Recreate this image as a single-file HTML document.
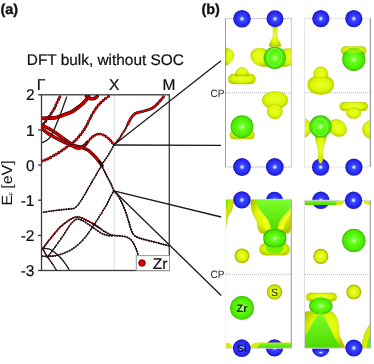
<!DOCTYPE html>
<html><head><meta charset="utf-8">
<style>
html,body{margin:0;padding:0;background:#fff;}
body{width:374px;height:364px;overflow:hidden;position:relative;}
svg{position:absolute;left:0;top:0;}
text{font-family:"Liberation Sans",Arial,sans-serif;text-rendering:geometricPrecision;}
</style></head><body>
<svg width="374" height="364" viewBox="0 0 374 364">
<defs>
<clipPath id="plotclip"><rect x="41.5" y="94.8" width="127.8" height="175.7"/></clipPath>
<radialGradient id="gBlue" cx="0.5" cy="0.5" r="0.5" fx="0.5" fy="0.5">
 <stop offset="0" stop-color="#f4ffff"/><stop offset="0.13" stop-color="#a8c4ff"/><stop offset="0.3" stop-color="#3c46ff"/><stop offset="0.78" stop-color="#2626f2"/><stop offset="1" stop-color="#1818b4"/>
</radialGradient>
<radialGradient id="gGreen" cx="0.5" cy="0.5" r="0.5" fx="0.5" fy="0.5">
 <stop offset="0" stop-color="#e6ffd8"/><stop offset="0.12" stop-color="#98ff66"/><stop offset="0.35" stop-color="#62ff14"/><stop offset="0.85" stop-color="#4ae800"/><stop offset="1" stop-color="#34b400"/>
</radialGradient>
<radialGradient id="gYel" cx="0.5" cy="0.5" r="0.5" fx="0.5" fy="0.5">
 <stop offset="0" stop-color="#faffa0"/><stop offset="0.2" stop-color="#eaff20"/><stop offset="0.7" stop-color="#d8f000"/><stop offset="1" stop-color="#9aaa00"/>
</radialGradient>
<radialGradient id="gLobe" cx="0.5" cy="0.45" r="0.6">
 <stop offset="0" stop-color="#ecff30"/><stop offset="0.6" stop-color="#dcf800"/><stop offset="1" stop-color="#aec400"/>
</radialGradient>
</defs>

<!-- labels -->
<text x="0.5" y="14.4" font-size="14.4" font-weight="bold" fill="#111" stroke="#111" stroke-width="0.35">(a)</text>
<text x="201.4" y="14.3" font-size="14.4" font-weight="bold" fill="#111" stroke="#111" stroke-width="0.35">(b)</text>
<text x="26.8" y="65.1" font-size="15.4" fill="#111" stroke="#111" stroke-width="0.22">DFT bulk, without SOC</text>
<text x="36.8" y="89.9" font-size="15.8" fill="#111" stroke="#111" stroke-width="0.22">Γ</text>
<text x="108.9" y="89.7" font-size="15.5" fill="#111" stroke="#111" stroke-width="0.22">X</text>
<text x="162.6" y="89.5" font-size="15.5" fill="#111" stroke="#111" stroke-width="0.22">M</text>
<text x="34.5" y="100.3" font-size="15.5" fill="#111" stroke="#111" stroke-width="0.22" text-anchor="end">2</text>
<text x="34.5" y="135.6" font-size="15.5" fill="#111" stroke="#111" stroke-width="0.22" text-anchor="end">1</text>
<text x="34.5" y="171.0" font-size="15.5" fill="#111" stroke="#111" stroke-width="0.22" text-anchor="end">0</text>
<text x="34.5" y="206.2" font-size="15.5" fill="#111" stroke="#111" stroke-width="0.22" text-anchor="end">-1</text>
<text x="34.5" y="241.3" font-size="15.5" fill="#111" stroke="#111" stroke-width="0.22" text-anchor="end">-2</text>
<text x="34.5" y="276.1" font-size="15.5" fill="#111" stroke="#111" stroke-width="0.22" text-anchor="end">-3</text>
<g transform="translate(11.7,205.4) rotate(-90) scale(1.09,1)" font-size="14.8" fill="#111"><text x="0" y="0">E</text><text x="9.2" y="1.6" font-size="5.5">F</text><text x="15.2" y="0">[eV]</text></g>

<!-- plot frame -->
<line x1="114.3" y1="95" x2="114.3" y2="270" stroke="#dcdcdc" stroke-width="1"/>
<g clip-path="url(#plotclip)">
<path d="M41.6,118.3 C43.0,118.2 47.5,118.1 50.0,118.0 C52.5,117.9 53.8,118.2 56.5,117.5 C59.2,116.8 63.5,115.1 66.0,114.1 C68.5,113.1 69.9,112.7 71.8,111.7 C73.7,110.7 75.6,109.3 77.5,107.9 C79.4,106.5 81.7,104.6 83.3,103.1 C84.9,101.6 86.3,99.8 87.2,98.7 C88.1,97.6 88.4,96.9 88.6,96.6" stroke="#2a0202" stroke-width="3.8" fill="none" stroke-linecap="round"/>
<path d="M41.6,118.3 C43.0,118.2 47.5,118.1 50.0,118.0 C52.5,117.9 53.8,118.2 56.5,117.5 C59.2,116.8 63.5,115.1 66.0,114.1 C68.5,113.1 69.9,112.7 71.8,111.7 C73.7,110.7 75.6,109.3 77.5,107.9 C79.4,106.5 81.7,104.6 83.3,103.1 C84.9,101.6 86.3,99.8 87.2,98.7 C88.1,97.6 88.4,96.9 88.6,96.6" stroke="#f20000" stroke-width="2.74" fill="none" stroke-dasharray="1.5 0.55"/>
<path d="M86.5,96.2 C87.0,96.5 88.6,97.9 89.5,98.3 C90.4,98.7 91.2,98.8 92.0,98.8 C92.8,98.8 93.6,98.8 94.5,98.4 C95.4,98.0 96.8,96.6 97.2,96.2" stroke="#2a0202" stroke-width="3.6" fill="none" stroke-linecap="round"/>
<path d="M86.5,96.2 C87.0,96.5 88.6,97.9 89.5,98.3 C90.4,98.7 91.2,98.8 92.0,98.8 C92.8,98.8 93.6,98.8 94.5,98.4 C95.4,98.0 96.8,96.6 97.2,96.2" stroke="#f20000" stroke-width="2.59" fill="none" stroke-dasharray="1.5 0.55"/>
<path d="M59.8,96.9 C59.3,97.8 57.9,100.6 57.0,102.5 C56.1,104.4 55.6,106.2 54.4,108.4 C53.2,110.6 51.5,113.1 49.9,115.4 C48.3,117.7 46.2,120.8 44.9,122.4 C43.6,124.0 42.5,124.6 42.0,125.0" stroke="#1a0505" stroke-width="1.3" fill="none"/>
<path d="M59.8,96.9 C59.3,97.8 57.9,100.6 57.0,102.5 C56.1,104.4 55.6,106.2 54.4,108.4 C53.2,110.6 51.5,113.1 49.9,115.4 C48.3,117.7 46.2,120.8 44.9,122.4 C43.6,124.0 42.5,124.6 42.0,125.0" stroke="#1a0505" stroke-width="3.00" fill="none" stroke-linecap="round" stroke-dasharray="0.01 3.15"/>
<path d="M59.8,96.9 C59.3,97.8 57.9,100.6 57.0,102.5 C56.1,104.4 55.6,106.2 54.4,108.4 C53.2,110.6 51.5,113.1 49.9,115.4 C48.3,117.7 46.2,120.8 44.9,122.4 C43.6,124.0 42.5,124.6 42.0,125.0" stroke="#f20000" stroke-width="2.10" fill="none" stroke-linecap="round" stroke-dasharray="0.01 3.15"/>
<path d="M66.8,96.6 C66.4,97.8 65.1,101.2 64.3,103.5 C63.5,105.8 63.0,107.4 61.8,110.5 C60.6,113.6 58.6,118.8 57.3,122.0 C56.0,125.2 55.2,127.3 54.0,129.8 C52.8,132.4 51.2,135.5 49.9,137.3 C48.6,139.1 47.1,140.0 46.0,140.8 C44.9,141.6 43.7,142.0 43.0,142.3 C42.3,142.6 41.8,142.6 41.6,142.6" stroke="#1a1a1a" stroke-width="1.3" fill="none"/>
<path d="M42.0,125.3 C43.0,125.8 45.8,126.9 48.2,128.2 C50.6,129.5 53.8,131.5 56.5,133.3 C59.2,135.2 62.0,137.4 64.7,139.3 C67.5,141.2 70.1,143.6 73.0,145.0 C75.9,146.4 79.4,146.6 82.0,147.5 C84.6,148.4 86.4,148.9 88.6,150.5 C90.8,152.1 93.3,154.9 95.2,156.9 C97.1,158.9 98.9,161.2 100.0,162.6 C101.1,164.0 101.7,165.0 102.0,165.5" stroke="#2a0202" stroke-width="3.4" fill="none" stroke-linecap="round"/>
<path d="M42.0,125.3 C43.0,125.8 45.8,126.9 48.2,128.2 C50.6,129.5 53.8,131.5 56.5,133.3 C59.2,135.2 62.0,137.4 64.7,139.3 C67.5,141.2 70.1,143.6 73.0,145.0 C75.9,146.4 79.4,146.6 82.0,147.5 C84.6,148.4 86.4,148.9 88.6,150.5 C90.8,152.1 93.3,154.9 95.2,156.9 C97.1,158.9 98.9,161.2 100.0,162.6 C101.1,164.0 101.7,165.0 102.0,165.5" stroke="#f20000" stroke-width="2.45" fill="none" stroke-dasharray="1.5 0.55"/>
<path d="M99.0,161.2 C99.2,161.4 99.2,161.2 100.0,162.6 C100.8,164.0 102.3,167.2 103.5,169.5 C104.7,171.8 105.8,173.8 107.0,176.2 C108.2,178.6 109.9,181.6 111.0,184.0 C112.1,186.4 113.3,189.7 113.8,190.8" stroke="#1e1e1e" stroke-width="1.0" fill="none"/>
<path d="M99.0,161.2 C99.2,161.4 99.2,161.2 100.0,162.6 C100.8,164.0 102.3,167.2 103.5,169.5 C104.7,171.8 105.8,173.8 107.0,176.2 C108.2,178.6 109.9,181.6 111.0,184.0 C112.1,186.4 113.3,189.7 113.8,190.8" stroke="#140808" stroke-width="2.1" fill="none" stroke-linecap="round" stroke-dasharray="0.01 2.5"/>
<path d="M99.0,161.2 C99.2,161.4 99.2,161.2 100.0,162.6 C100.8,164.0 102.3,167.2 103.5,169.5 C104.7,171.8 105.8,173.8 107.0,176.2 C108.2,178.6 109.9,181.6 111.0,184.0 C112.1,186.4 113.3,189.7 113.8,190.8" stroke="#c00000" stroke-width="0.5" fill="none" stroke-linecap="round" stroke-dasharray="0.01 2.5"/>
<path d="M42.0,128.6 C43.0,129.4 45.8,131.9 48.2,133.5 C50.6,135.1 53.8,136.8 56.5,138.3 C59.2,139.8 62.5,141.4 64.7,142.4 C67.0,143.4 68.0,143.7 70.0,144.6 C72.0,145.5 74.8,147.3 76.5,147.8 C78.2,148.3 79.1,148.3 80.5,147.8 C81.9,147.3 83.9,145.9 85.0,145.0 C86.1,144.1 86.7,142.9 87.0,142.5" stroke="#2a0202" stroke-width="3.4" fill="none" stroke-linecap="round"/>
<path d="M42.0,128.6 C43.0,129.4 45.8,131.9 48.2,133.5 C50.6,135.1 53.8,136.8 56.5,138.3 C59.2,139.8 62.5,141.4 64.7,142.4 C67.0,143.4 68.0,143.7 70.0,144.6 C72.0,145.5 74.8,147.3 76.5,147.8 C78.2,148.3 79.1,148.3 80.5,147.8 C81.9,147.3 83.9,145.9 85.0,145.0 C86.1,144.1 86.7,142.9 87.0,142.5" stroke="#f20000" stroke-width="2.45" fill="none" stroke-dasharray="1.5 0.55"/>
<path d="M82.0,147.2 C82.5,146.8 84.0,145.9 85.0,145.0 C86.0,144.1 86.8,142.8 88.0,141.5 C89.2,140.2 90.7,138.3 92.0,137.2 C93.3,136.1 94.7,135.2 96.0,134.7 C97.3,134.2 98.7,133.9 100.0,134.0 C101.3,134.1 102.7,134.6 104.0,135.3 C105.3,136.0 106.8,137.1 108.0,138.0 C109.2,138.9 110.0,139.8 111.0,141.0 C112.0,142.2 113.3,144.3 113.8,145.0" stroke="#1a0505" stroke-width="1.3" fill="none"/>
<path d="M82.0,147.2 C82.5,146.8 84.0,145.9 85.0,145.0 C86.0,144.1 86.8,142.8 88.0,141.5 C89.2,140.2 90.7,138.3 92.0,137.2 C93.3,136.1 94.7,135.2 96.0,134.7 C97.3,134.2 98.7,133.9 100.0,134.0 C101.3,134.1 102.7,134.6 104.0,135.3 C105.3,136.0 106.8,137.1 108.0,138.0 C109.2,138.9 110.0,139.8 111.0,141.0 C112.0,142.2 113.3,144.3 113.8,145.0" stroke="#1a0505" stroke-width="2.80" fill="none" stroke-linecap="round" stroke-dasharray="0.01 2.94"/>
<path d="M82.0,147.2 C82.5,146.8 84.0,145.9 85.0,145.0 C86.0,144.1 86.8,142.8 88.0,141.5 C89.2,140.2 90.7,138.3 92.0,137.2 C93.3,136.1 94.7,135.2 96.0,134.7 C97.3,134.2 98.7,133.9 100.0,134.0 C101.3,134.1 102.7,134.6 104.0,135.3 C105.3,136.0 106.8,137.1 108.0,138.0 C109.2,138.9 110.0,139.8 111.0,141.0 C112.0,142.2 113.3,144.3 113.8,145.0" stroke="#f20000" stroke-width="1.96" fill="none" stroke-linecap="round" stroke-dasharray="0.01 2.94"/>
<path d="M42.0,161.1 C43.0,160.7 46.0,159.7 48.0,158.8 C50.0,157.9 51.7,156.8 53.7,155.6 C55.7,154.4 57.9,153.3 60.0,151.9 C62.1,150.5 64.6,148.7 66.6,147.2 C68.6,145.7 70.4,144.4 72.1,143.1 C73.8,141.8 75.1,140.7 76.5,139.3 C77.9,137.9 79.2,136.3 80.5,134.7 C81.8,133.1 82.9,131.5 84.0,129.8 C85.1,128.1 86.0,126.4 87.0,124.5 C88.0,122.6 89.0,120.4 90.0,118.5 C91.0,116.6 91.8,114.9 93.0,113.0 C94.2,111.1 95.7,108.8 97.0,107.0 C98.3,105.2 99.7,103.8 101.0,102.5 C102.3,101.2 103.7,100.1 105.0,99.0 C106.3,97.9 108.3,96.5 109.0,96.0" stroke="#1a0505" stroke-width="1.3" fill="none"/>
<path d="M42.0,161.1 C43.0,160.7 46.0,159.7 48.0,158.8 C50.0,157.9 51.7,156.8 53.7,155.6 C55.7,154.4 57.9,153.3 60.0,151.9 C62.1,150.5 64.6,148.7 66.6,147.2 C68.6,145.7 70.4,144.4 72.1,143.1 C73.8,141.8 75.1,140.7 76.5,139.3 C77.9,137.9 79.2,136.3 80.5,134.7 C81.8,133.1 82.9,131.5 84.0,129.8 C85.1,128.1 86.0,126.4 87.0,124.5 C88.0,122.6 89.0,120.4 90.0,118.5 C91.0,116.6 91.8,114.9 93.0,113.0 C94.2,111.1 95.7,108.8 97.0,107.0 C98.3,105.2 99.7,103.8 101.0,102.5 C102.3,101.2 103.7,100.1 105.0,99.0 C106.3,97.9 108.3,96.5 109.0,96.0" stroke="#1a0505" stroke-width="3.00" fill="none" stroke-linecap="round" stroke-dasharray="0.01 3.15"/>
<path d="M42.0,161.1 C43.0,160.7 46.0,159.7 48.0,158.8 C50.0,157.9 51.7,156.8 53.7,155.6 C55.7,154.4 57.9,153.3 60.0,151.9 C62.1,150.5 64.6,148.7 66.6,147.2 C68.6,145.7 70.4,144.4 72.1,143.1 C73.8,141.8 75.1,140.7 76.5,139.3 C77.9,137.9 79.2,136.3 80.5,134.7 C81.8,133.1 82.9,131.5 84.0,129.8 C85.1,128.1 86.0,126.4 87.0,124.5 C88.0,122.6 89.0,120.4 90.0,118.5 C91.0,116.6 91.8,114.9 93.0,113.0 C94.2,111.1 95.7,108.8 97.0,107.0 C98.3,105.2 99.7,103.8 101.0,102.5 C102.3,101.2 103.7,100.1 105.0,99.0 C106.3,97.9 108.3,96.5 109.0,96.0" stroke="#f20000" stroke-width="2.10" fill="none" stroke-linecap="round" stroke-dasharray="0.01 3.15"/>
<path d="M113.8,145.0 C114.4,144.3 116.3,142.4 117.5,141.0 C118.7,139.6 119.5,138.3 120.7,136.4 C122.0,134.5 123.8,131.6 125.0,129.5 C126.2,127.4 127.2,125.4 128.0,123.8 C128.8,122.2 129.7,120.6 130.0,120.0" stroke="#1a0505" stroke-width="1.3" fill="none"/>
<path d="M113.8,145.0 C114.4,144.3 116.3,142.4 117.5,141.0 C118.7,139.6 119.5,138.3 120.7,136.4 C122.0,134.5 123.8,131.6 125.0,129.5 C126.2,127.4 127.2,125.4 128.0,123.8 C128.8,122.2 129.7,120.6 130.0,120.0" stroke="#1a0505" stroke-width="2.20" fill="none" stroke-linecap="round" stroke-dasharray="0.01 2.31"/>
<path d="M113.8,145.0 C114.4,144.3 116.3,142.4 117.5,141.0 C118.7,139.6 119.5,138.3 120.7,136.4 C122.0,134.5 123.8,131.6 125.0,129.5 C126.2,127.4 127.2,125.4 128.0,123.8 C128.8,122.2 129.7,120.6 130.0,120.0" stroke="#f20000" stroke-width="1.54" fill="none" stroke-linecap="round" stroke-dasharray="0.01 2.31"/>
<path d="M128.0,123.8 C128.5,122.8 130.2,119.3 131.2,117.8 C132.2,116.2 133.0,115.3 134.0,114.5 C135.0,113.7 135.5,113.3 137.0,112.8 C138.5,112.3 140.8,111.9 142.9,111.3 C145.0,110.7 147.9,109.9 149.7,109.3 C151.5,108.7 152.3,108.2 153.5,107.4 C154.7,106.6 155.5,105.7 156.6,104.6 C157.7,103.5 158.8,102.3 160.0,101.0 C161.2,99.7 162.9,97.3 163.5,96.6" stroke="#1a0505" stroke-width="1.3" fill="none"/>
<path d="M128.0,123.8 C128.5,122.8 130.2,119.3 131.2,117.8 C132.2,116.2 133.0,115.3 134.0,114.5 C135.0,113.7 135.5,113.3 137.0,112.8 C138.5,112.3 140.8,111.9 142.9,111.3 C145.0,110.7 147.9,109.9 149.7,109.3 C151.5,108.7 152.3,108.2 153.5,107.4 C154.7,106.6 155.5,105.7 156.6,104.6 C157.7,103.5 158.8,102.3 160.0,101.0 C161.2,99.7 162.9,97.3 163.5,96.6" stroke="#1a0505" stroke-width="3.00" fill="none" stroke-linecap="round" stroke-dasharray="0.01 2.10"/>
<path d="M128.0,123.8 C128.5,122.8 130.2,119.3 131.2,117.8 C132.2,116.2 133.0,115.3 134.0,114.5 C135.0,113.7 135.5,113.3 137.0,112.8 C138.5,112.3 140.8,111.9 142.9,111.3 C145.0,110.7 147.9,109.9 149.7,109.3 C151.5,108.7 152.3,108.2 153.5,107.4 C154.7,106.6 155.5,105.7 156.6,104.6 C157.7,103.5 158.8,102.3 160.0,101.0 C161.2,99.7 162.9,97.3 163.5,96.6" stroke="#f20000" stroke-width="2.10" fill="none" stroke-linecap="round" stroke-dasharray="0.01 2.10"/>
<path d="M113.8,145.0 C113.3,145.9 112.1,148.5 111.0,150.5 C109.9,152.5 108.2,155.1 107.0,157.0 C105.8,158.9 104.5,160.4 103.5,162.0 C102.5,163.6 101.7,165.0 100.8,166.6 C99.9,168.2 98.9,169.9 98.0,171.5 C97.1,173.1 96.2,174.6 95.3,176.2 C94.4,177.8 93.4,179.5 92.5,181.0 C91.6,182.5 90.9,183.6 90.0,185.2 C89.1,186.8 88.0,188.7 87.0,190.5 C86.0,192.3 85.0,194.1 84.0,195.8 C83.0,197.5 81.9,199.2 81.0,200.6 C80.1,202.0 79.4,203.2 78.5,204.3 C77.6,205.4 76.4,206.7 75.5,207.4 C74.6,208.1 74.8,208.3 73.0,208.6 C71.2,208.9 67.9,209.1 64.7,209.4 C61.5,209.8 57.4,210.2 53.7,210.7 C50.0,211.2 44.5,212.1 42.7,212.4" stroke="#1e1e1e" stroke-width="1.0" fill="none"/>
<path d="M113.8,145.0 C113.3,145.9 112.1,148.5 111.0,150.5 C109.9,152.5 108.2,155.1 107.0,157.0 C105.8,158.9 104.5,160.4 103.5,162.0 C102.5,163.6 101.7,165.0 100.8,166.6 C99.9,168.2 98.9,169.9 98.0,171.5 C97.1,173.1 96.2,174.6 95.3,176.2 C94.4,177.8 93.4,179.5 92.5,181.0 C91.6,182.5 90.9,183.6 90.0,185.2 C89.1,186.8 88.0,188.7 87.0,190.5 C86.0,192.3 85.0,194.1 84.0,195.8 C83.0,197.5 81.9,199.2 81.0,200.6 C80.1,202.0 79.4,203.2 78.5,204.3 C77.6,205.4 76.4,206.7 75.5,207.4 C74.6,208.1 74.8,208.3 73.0,208.6 C71.2,208.9 67.9,209.1 64.7,209.4 C61.5,209.8 57.4,210.2 53.7,210.7 C50.0,211.2 44.5,212.1 42.7,212.4" stroke="#140808" stroke-width="1.9" fill="none" stroke-linecap="round" stroke-dasharray="0.01 2.5"/>
<path d="M113.8,145.0 C113.3,145.9 112.1,148.5 111.0,150.5 C109.9,152.5 108.2,155.1 107.0,157.0 C105.8,158.9 104.5,160.4 103.5,162.0 C102.5,163.6 101.7,165.0 100.8,166.6 C99.9,168.2 98.9,169.9 98.0,171.5 C97.1,173.1 96.2,174.6 95.3,176.2 C94.4,177.8 93.4,179.5 92.5,181.0 C91.6,182.5 90.9,183.6 90.0,185.2 C89.1,186.8 88.0,188.7 87.0,190.5 C86.0,192.3 85.0,194.1 84.0,195.8 C83.0,197.5 81.9,199.2 81.0,200.6 C80.1,202.0 79.4,203.2 78.5,204.3 C77.6,205.4 76.4,206.7 75.5,207.4 C74.6,208.1 74.8,208.3 73.0,208.6 C71.2,208.9 67.9,209.1 64.7,209.4 C61.5,209.8 57.4,210.2 53.7,210.7 C50.0,211.2 44.5,212.1 42.7,212.4" stroke="#c00000" stroke-width="0.5" fill="none" stroke-linecap="round" stroke-dasharray="0.01 2.5"/>
<path d="M113.8,190.8 C113.2,192.0 111.2,195.5 110.0,197.8 C108.8,200.1 108.0,202.2 106.8,204.5 C105.5,206.8 104.1,208.9 102.5,211.5 C100.9,214.1 98.9,217.3 97.2,220.0 C95.5,222.7 94.1,224.8 92.3,227.4 C90.5,230.0 88.4,233.2 86.5,235.7 C84.6,238.2 82.6,240.4 80.7,242.3 C78.8,244.2 76.5,245.9 74.9,247.2 C73.3,248.4 73.0,248.8 71.2,249.8 C69.4,250.8 66.6,252.1 64.1,253.1 C61.6,254.1 58.4,255.1 56.0,255.6 C53.6,256.1 52.3,256.1 50.0,256.2 C47.7,256.3 43.5,256.3 42.2,256.3" stroke="#1e1e1e" stroke-width="1.0" fill="none"/>
<path d="M113.8,190.8 C113.2,192.0 111.2,195.5 110.0,197.8 C108.8,200.1 108.0,202.2 106.8,204.5 C105.5,206.8 104.1,208.9 102.5,211.5 C100.9,214.1 98.9,217.3 97.2,220.0 C95.5,222.7 94.1,224.8 92.3,227.4 C90.5,230.0 88.4,233.2 86.5,235.7 C84.6,238.2 82.6,240.4 80.7,242.3 C78.8,244.2 76.5,245.9 74.9,247.2 C73.3,248.4 73.0,248.8 71.2,249.8 C69.4,250.8 66.6,252.1 64.1,253.1 C61.6,254.1 58.4,255.1 56.0,255.6 C53.6,256.1 52.3,256.1 50.0,256.2 C47.7,256.3 43.5,256.3 42.2,256.3" stroke="#140808" stroke-width="1.9" fill="none" stroke-linecap="round" stroke-dasharray="0.01 2.5"/>
<path d="M113.8,190.8 C113.2,192.0 111.2,195.5 110.0,197.8 C108.8,200.1 108.0,202.2 106.8,204.5 C105.5,206.8 104.1,208.9 102.5,211.5 C100.9,214.1 98.9,217.3 97.2,220.0 C95.5,222.7 94.1,224.8 92.3,227.4 C90.5,230.0 88.4,233.2 86.5,235.7 C84.6,238.2 82.6,240.4 80.7,242.3 C78.8,244.2 76.5,245.9 74.9,247.2 C73.3,248.4 73.0,248.8 71.2,249.8 C69.4,250.8 66.6,252.1 64.1,253.1 C61.6,254.1 58.4,255.1 56.0,255.6 C53.6,256.1 52.3,256.1 50.0,256.2 C47.7,256.3 43.5,256.3 42.2,256.3" stroke="#c00000" stroke-width="0.5" fill="none" stroke-linecap="round" stroke-dasharray="0.01 2.5"/>
<path d="M113.8,190.8 C114.4,191.5 116.3,193.2 117.5,194.8 C118.7,196.4 119.7,198.6 120.7,200.5 C121.7,202.4 122.6,204.3 123.5,206.5 C124.4,208.7 125.4,211.2 126.2,213.5 C127.0,215.8 127.7,218.1 128.4,220.5 C129.1,222.9 129.9,225.9 130.6,228.0 C131.3,230.1 131.9,231.7 132.6,233.0 C133.3,234.3 133.8,235.0 134.8,235.8 C135.8,236.6 136.8,237.1 138.5,237.7 C140.2,238.3 141.6,238.8 144.7,239.6 C147.8,240.4 154.0,241.9 157.1,242.7 C160.2,243.5 161.0,243.8 163.0,244.3 C165.0,244.8 168.2,245.6 169.3,245.9" stroke="#1e1e1e" stroke-width="1.0" fill="none"/>
<path d="M113.8,190.8 C114.4,191.5 116.3,193.2 117.5,194.8 C118.7,196.4 119.7,198.6 120.7,200.5 C121.7,202.4 122.6,204.3 123.5,206.5 C124.4,208.7 125.4,211.2 126.2,213.5 C127.0,215.8 127.7,218.1 128.4,220.5 C129.1,222.9 129.9,225.9 130.6,228.0 C131.3,230.1 131.9,231.7 132.6,233.0 C133.3,234.3 133.8,235.0 134.8,235.8 C135.8,236.6 136.8,237.1 138.5,237.7 C140.2,238.3 141.6,238.8 144.7,239.6 C147.8,240.4 154.0,241.9 157.1,242.7 C160.2,243.5 161.0,243.8 163.0,244.3 C165.0,244.8 168.2,245.6 169.3,245.9" stroke="#140808" stroke-width="2.1" fill="none" stroke-linecap="round" stroke-dasharray="0.01 2.5"/>
<path d="M113.8,190.8 C114.4,191.5 116.3,193.2 117.5,194.8 C118.7,196.4 119.7,198.6 120.7,200.5 C121.7,202.4 122.6,204.3 123.5,206.5 C124.4,208.7 125.4,211.2 126.2,213.5 C127.0,215.8 127.7,218.1 128.4,220.5 C129.1,222.9 129.9,225.9 130.6,228.0 C131.3,230.1 131.9,231.7 132.6,233.0 C133.3,234.3 133.8,235.0 134.8,235.8 C135.8,236.6 136.8,237.1 138.5,237.7 C140.2,238.3 141.6,238.8 144.7,239.6 C147.8,240.4 154.0,241.9 157.1,242.7 C160.2,243.5 161.0,243.8 163.0,244.3 C165.0,244.8 168.2,245.6 169.3,245.9" stroke="#c00000" stroke-width="0.5" fill="none" stroke-linecap="round" stroke-dasharray="0.01 2.5"/>
<path d="M42.7,249.1 C43.3,248.2 45.1,245.4 46.5,243.5 C47.9,241.6 49.6,239.6 51.0,237.8 C52.4,236.1 53.6,234.6 55.0,233.0 C56.4,231.4 57.8,229.4 59.2,228.0 C60.6,226.6 62.1,225.4 63.5,224.3 C64.9,223.2 66.1,222.2 67.5,221.2 C68.9,220.2 70.6,219.2 72.0,218.5 C73.4,217.8 74.8,217.4 76.0,217.2 C77.2,217.0 78.3,217.1 79.5,217.3 C80.7,217.5 81.8,218.0 83.0,218.5 C84.2,219.0 84.8,219.3 86.5,220.2 C88.2,221.1 90.8,222.3 93.0,223.7 C95.2,225.0 98.8,227.5 100.0,228.3" stroke="#1a0505" stroke-width="1.3" fill="none"/>
<path d="M42.7,249.1 C43.3,248.2 45.1,245.4 46.5,243.5 C47.9,241.6 49.6,239.6 51.0,237.8 C52.4,236.1 53.6,234.6 55.0,233.0 C56.4,231.4 57.8,229.4 59.2,228.0 C60.6,226.6 62.1,225.4 63.5,224.3 C64.9,223.2 66.1,222.2 67.5,221.2 C68.9,220.2 70.6,219.2 72.0,218.5 C73.4,217.8 74.8,217.4 76.0,217.2 C77.2,217.0 78.3,217.1 79.5,217.3 C80.7,217.5 81.8,218.0 83.0,218.5 C84.2,219.0 84.8,219.3 86.5,220.2 C88.2,221.1 90.8,222.3 93.0,223.7 C95.2,225.0 98.8,227.5 100.0,228.3" stroke="#1a0505" stroke-width="2.00" fill="none" stroke-linecap="round" stroke-dasharray="0.01 2.30"/>
<path d="M42.7,249.1 C43.3,248.2 45.1,245.4 46.5,243.5 C47.9,241.6 49.6,239.6 51.0,237.8 C52.4,236.1 53.6,234.6 55.0,233.0 C56.4,231.4 57.8,229.4 59.2,228.0 C60.6,226.6 62.1,225.4 63.5,224.3 C64.9,223.2 66.1,222.2 67.5,221.2 C68.9,220.2 70.6,219.2 72.0,218.5 C73.4,217.8 74.8,217.4 76.0,217.2 C77.2,217.0 78.3,217.1 79.5,217.3 C80.7,217.5 81.8,218.0 83.0,218.5 C84.2,219.0 84.8,219.3 86.5,220.2 C88.2,221.1 90.8,222.3 93.0,223.7 C95.2,225.0 98.8,227.5 100.0,228.3" stroke="#f20000" stroke-width="1.40" fill="none" stroke-linecap="round" stroke-dasharray="0.01 2.30"/>
<path d="M93.0,223.7 C94.2,224.5 98.0,227.0 100.0,228.3 C102.0,229.7 103.3,230.8 105.0,231.8 C106.7,232.9 108.6,234.0 110.1,234.6 C111.6,235.2 112.7,235.3 114.0,235.5 C115.3,235.7 116.4,235.7 118.1,235.8 C119.8,236.0 122.3,236.1 124.0,236.4 C125.7,236.7 126.9,237.2 128.0,237.7 C129.1,238.2 129.9,238.7 130.8,239.6 C131.7,240.5 132.3,241.5 133.2,243.0 C134.1,244.5 135.1,246.3 136.0,248.5 C136.9,250.7 137.8,253.8 138.5,256.0 C139.2,258.2 140.2,261.0 140.5,262.0" stroke="#1e1e1e" stroke-width="1.0" fill="none"/>
<path d="M93.0,223.7 C94.2,224.5 98.0,227.0 100.0,228.3 C102.0,229.7 103.3,230.8 105.0,231.8 C106.7,232.9 108.6,234.0 110.1,234.6 C111.6,235.2 112.7,235.3 114.0,235.5 C115.3,235.7 116.4,235.7 118.1,235.8 C119.8,236.0 122.3,236.1 124.0,236.4 C125.7,236.7 126.9,237.2 128.0,237.7 C129.1,238.2 129.9,238.7 130.8,239.6 C131.7,240.5 132.3,241.5 133.2,243.0 C134.1,244.5 135.1,246.3 136.0,248.5 C136.9,250.7 137.8,253.8 138.5,256.0 C139.2,258.2 140.2,261.0 140.5,262.0" stroke="#140808" stroke-width="2.0" fill="none" stroke-linecap="round" stroke-dasharray="0.01 2.5"/>
<path d="M93.0,223.7 C94.2,224.5 98.0,227.0 100.0,228.3 C102.0,229.7 103.3,230.8 105.0,231.8 C106.7,232.9 108.6,234.0 110.1,234.6 C111.6,235.2 112.7,235.3 114.0,235.5 C115.3,235.7 116.4,235.7 118.1,235.8 C119.8,236.0 122.3,236.1 124.0,236.4 C125.7,236.7 126.9,237.2 128.0,237.7 C129.1,238.2 129.9,238.7 130.8,239.6 C131.7,240.5 132.3,241.5 133.2,243.0 C134.1,244.5 135.1,246.3 136.0,248.5 C136.9,250.7 137.8,253.8 138.5,256.0 C139.2,258.2 140.2,261.0 140.5,262.0" stroke="#c00000" stroke-width="0.5" fill="none" stroke-linecap="round" stroke-dasharray="0.01 2.5"/>
<path d="M47.5,257.2 C48.3,256.2 50.5,253.3 52.2,251.0 C53.9,248.7 55.7,246.2 57.6,243.5 C59.5,240.8 62.0,237.5 63.6,235.0 C65.2,232.5 66.3,230.6 67.5,228.7 C68.7,226.8 69.8,225.2 71.0,223.8 C72.2,222.4 73.4,221.1 74.5,220.3 C75.6,219.5 76.2,219.2 77.5,219.2 C78.8,219.2 80.5,219.7 82.0,220.3 C83.5,220.9 85.1,222.1 86.5,223.0 C87.9,223.9 89.2,224.8 90.6,225.8 C92.0,226.8 93.4,227.9 95.0,229.0 C96.6,230.1 98.4,231.5 100.0,232.4 C101.6,233.3 103.1,234.1 104.5,234.6 C105.9,235.1 107.2,235.4 108.5,235.6 C109.8,235.8 111.4,235.7 112.0,235.7" stroke="#1e1e1e" stroke-width="1.0" fill="none"/>
<path d="M47.5,257.2 C48.3,256.2 50.5,253.3 52.2,251.0 C53.9,248.7 55.7,246.2 57.6,243.5 C59.5,240.8 62.0,237.5 63.6,235.0 C65.2,232.5 66.3,230.6 67.5,228.7 C68.7,226.8 69.8,225.2 71.0,223.8 C72.2,222.4 73.4,221.1 74.5,220.3 C75.6,219.5 76.2,219.2 77.5,219.2 C78.8,219.2 80.5,219.7 82.0,220.3 C83.5,220.9 85.1,222.1 86.5,223.0 C87.9,223.9 89.2,224.8 90.6,225.8 C92.0,226.8 93.4,227.9 95.0,229.0 C96.6,230.1 98.4,231.5 100.0,232.4 C101.6,233.3 103.1,234.1 104.5,234.6 C105.9,235.1 107.2,235.4 108.5,235.6 C109.8,235.8 111.4,235.7 112.0,235.7" stroke="#140808" stroke-width="1.9" fill="none" stroke-linecap="round" stroke-dasharray="0.01 2.5"/>
<path d="M47.5,257.2 C48.3,256.2 50.5,253.3 52.2,251.0 C53.9,248.7 55.7,246.2 57.6,243.5 C59.5,240.8 62.0,237.5 63.6,235.0 C65.2,232.5 66.3,230.6 67.5,228.7 C68.7,226.8 69.8,225.2 71.0,223.8 C72.2,222.4 73.4,221.1 74.5,220.3 C75.6,219.5 76.2,219.2 77.5,219.2 C78.8,219.2 80.5,219.7 82.0,220.3 C83.5,220.9 85.1,222.1 86.5,223.0 C87.9,223.9 89.2,224.8 90.6,225.8 C92.0,226.8 93.4,227.9 95.0,229.0 C96.6,230.1 98.4,231.5 100.0,232.4 C101.6,233.3 103.1,234.1 104.5,234.6 C105.9,235.1 107.2,235.4 108.5,235.6 C109.8,235.8 111.4,235.7 112.0,235.7" stroke="#c00000" stroke-width="0.5" fill="none" stroke-linecap="round" stroke-dasharray="0.01 2.5"/>
<path d="M42.7,248.3 C43.7,248.4 46.9,248.2 48.8,248.8 C50.7,249.4 52.5,250.6 54.3,252.0 C56.1,253.4 58.0,255.1 59.8,257.0 C61.6,258.9 63.6,261.3 65.3,263.6 C67.0,265.9 69.0,269.5 69.7,270.7" stroke="#1a1a1a" stroke-width="1.4" fill="none"/>
<path d="M42.7,248.3 C43.2,249.2 44.3,251.7 45.5,253.7 C46.7,255.7 48.6,258.3 49.9,260.3 C51.2,262.3 52.4,263.8 53.5,265.5 C54.6,267.2 56.0,269.8 56.5,270.7" stroke="#1e1e1e" stroke-width="1.0" fill="none"/>
<path d="M42.7,248.3 C43.2,249.2 44.3,251.7 45.5,253.7 C46.7,255.7 48.6,258.3 49.9,260.3 C51.2,262.3 52.4,263.8 53.5,265.5 C54.6,267.2 56.0,269.8 56.5,270.7" stroke="#140808" stroke-width="1.8" fill="none" stroke-linecap="round" stroke-dasharray="0.01 2.5"/>
<path d="M42.7,248.3 C43.2,249.2 44.3,251.7 45.5,253.7 C46.7,255.7 48.6,258.3 49.9,260.3 C51.2,262.3 52.4,263.8 53.5,265.5 C54.6,267.2 56.0,269.8 56.5,270.7" stroke="#c00000" stroke-width="0.5" fill="none" stroke-linecap="round" stroke-dasharray="0.01 2.5"/>
</g>
<g stroke="#3a3a3a" stroke-width="1.3">
<line x1="38" y1="94.8" x2="41.5" y2="94.8"/>
<line x1="38" y1="130" x2="41.5" y2="130"/>
<line x1="38" y1="165.1" x2="41.5" y2="165.1"/>
<line x1="38" y1="200.2" x2="41.5" y2="200.2"/>
<line x1="38" y1="235.4" x2="41.5" y2="235.4"/>
<line x1="38" y1="270.5" x2="41.5" y2="270.5"/>
</g>
<rect x="41.5" y="94.8" width="127.8" height="175.7" fill="none" stroke="#3a3a3a" stroke-width="1.3"/>

<!-- legend -->
<rect x="136.3" y="255.6" width="33.2" height="14.9" fill="#fff" stroke="#999" stroke-width="1"/>
<circle cx="142" cy="263" r="3.3" fill="#ee0000" stroke="#300" stroke-width="0.8"/>
<text x="152.8" y="268.6" font-size="15.5" fill="#111" stroke="#111" stroke-width="0.22">Zr</text>

<!-- connectors -->
<g stroke="#1a1a1a" stroke-width="1.3">
<line x1="113.8" y1="145" x2="221" y2="60.7"/>
<line x1="113.8" y1="145" x2="221" y2="145.4"/>
<line x1="113.8" y1="190.8" x2="221.2" y2="217"/>
<line x1="113.8" y1="190.8" x2="221.2" y2="295.5"/>
</g>
<g font-size="10.6" fill="#262626">
<text x="210.4" y="96.6" textLength="14" lengthAdjust="spacingAndGlyphs">CP</text>
<text x="210.4" y="277.9" textLength="14" lengthAdjust="spacingAndGlyphs">CP</text>
</g>

<defs>
<clipPath id="cTL"><rect x="225.5" y="18.6" width="65.8" height="148.4"/></clipPath>
<clipPath id="cTR"><rect x="304.4" y="18.6" width="65.9" height="148.4"/></clipPath>
<clipPath id="cBL"><rect x="225.5" y="199.4" width="65.8" height="148.8"/></clipPath>
<clipPath id="cBR"><rect x="304.4" y="200.3" width="65.9" height="147.9"/></clipPath>
<linearGradient id="gBand" x1="0" y1="0" x2="0" y2="1"><stop offset="0" stop-color="#7dff2a"/><stop offset="1" stop-color="#4fd800"/></linearGradient>
</defs>
<!-- panel backgrounds -->
<g fill="#fff">
<rect x="225.5" y="18.6" width="65.8" height="148.4"/>
<rect x="304.4" y="18.6" width="65.9" height="148.4"/>
<rect x="225.5" y="199.4" width="65.8" height="148.8"/>
<rect x="304.4" y="200.3" width="65.9" height="147.9"/>
</g>
<!-- CP dotted lines -->
<g stroke="#b0b8bc" stroke-width="1" stroke-dasharray="1 1">
<line x1="226" y1="92.8" x2="291" y2="92.8"/>
<line x1="305" y1="92.8" x2="370" y2="92.8"/>
<line x1="226" y1="274.3" x2="291" y2="274.3"/>
<line x1="305" y1="274.3" x2="370" y2="274.3"/>
</g>

<!-- ===== TL panel ===== -->
<g clip-path="url(#cTL)" fill="url(#gLobe)" stroke="#b8cc00" stroke-width="0.5">
 <path d="M225.5,47.8 C230,48 233.8,51 233.8,55.5 C233.8,60 229.5,63.5 225.5,66 Z"/>
 <path d="M268,50.5 C262,47 252,47 250.8,54.5 C250,62 258,67.5 268,66.5 Z"/>
 <path d="M281,50.5 C287,47 296,48 297,55 C298,63 290,67.5 281,66.5 Z"/>
 <path d="M272.7,27.4 C273.3,30 273.6,33 273.2,36 C272.7,39.5 269.3,42 269.2,46.5 L281,46.5 C280.8,42 277.4,39.5 276.9,36 C276.5,33 276.8,30 277.4,27.4 Z"/>
 <rect x="228.2" y="74" width="27.4" height="10" rx="5"/>
 <path d="M235.2,76 C235.2,70.5 238.2,67.6 242,67.6 C245.8,67.6 248.8,70.5 248.8,76 Z"/>
 <ellipse cx="275" cy="100.2" rx="12.9" ry="8.8"/>
 <circle cx="274.8" cy="111.4" r="7.6"/>
 <rect x="229.9" y="131" width="24.6" height="8" rx="4"/>
</g>
<g>
 <circle cx="274.8" cy="57.8" r="11.1" fill="url(#gGreen)"/>
 <ellipse cx="274.7" cy="57.2" rx="7" ry="8.8" fill="none" stroke="#a8ff9a" stroke-width="0.7"/>
 <circle cx="242" cy="126.6" r="11.4" fill="url(#gGreen)"/>
</g>

<!-- ===== TR panel ===== -->
<g clip-path="url(#cTR)" fill="url(#gLobe)" stroke="#b8cc00" stroke-width="0.5">
 <rect x="341" y="46.4" width="25.2" height="8.5" rx="4.2"/>
 <circle cx="320.8" cy="74.2" r="7.4"/>
 <path d="M320.7,78.5 C326,75.5 333.8,76.5 333.8,85 C333.8,91.5 327.5,94.4 320.7,94.4 C313.9,94.4 307.7,91.5 307.7,85 C307.7,76.5 315.4,75.5 320.7,78.5 Z"/>
 <rect x="339.7" y="102.3" width="28.2" height="8.4" rx="4.2"/>
 <ellipse cx="353.6" cy="113.2" rx="7.2" ry="5.4"/>
 <ellipse cx="303" cy="128" rx="8" ry="9.6"/>
 <ellipse cx="337.6" cy="128" rx="9.6" ry="7.9" transform="rotate(38 337.6 128)"/>
 <ellipse cx="371" cy="129.5" rx="8.5" ry="9"/>
 <path d="M315,136 C315.5,140 316.8,143.5 317.6,146.5 C318.2,149.5 318.4,153 318.5,157 C318.6,160.5 319,163.2 320.6,163.2 C322.2,163.2 322.6,160.5 322.7,157 C322.8,153 323,149.5 323.6,146.5 C324.4,143.5 325.9,140 326.5,136 Z"/>
</g>
<g>
 <circle cx="353.8" cy="59.3" r="11.6" fill="url(#gGreen)"/>
 <path d="M343.5,50.5 C346,48.2 349.5,47.4 353.8,47.4 C358.1,47.4 361.6,48.2 364.1,50.5 C362,52.3 358,53.2 353.8,53.2 C349.6,53.2 345.6,52.3 343.5,50.5 Z" fill="#c8f000" fill-opacity="0.55"/>
 <circle cx="320.5" cy="126.4" r="11.1" fill="url(#gGreen)"/>
 <ellipse cx="320.5" cy="127.2" rx="6.9" ry="8.5" fill="none" stroke="#a8ff9a" stroke-width="0.7"/>
</g>

<!-- ===== BL panel ===== -->
<circle cx="274.5" cy="200.2" r="8.5" fill="url(#gBlue)"/>
<g clip-path="url(#cBL)">
 <path d="M225.5,199.4 L233.2,199.4 C233.3,203 233,207 231.5,210.5 C230,213.5 227.5,216.5 226.8,219.5 C226.2,222.5 226,226 225.6,229.5 Z" fill="#cfe400" stroke="#adbd00" stroke-width="0.6"/>
 <path d="M225.5,199.4 L228.8,199.4 C228.8,202.5 228,205.5 225.5,208.5 Z" fill="#6cf200"/>
 <path d="M250.5,199.4 L291.3,199.4 L291.3,228 C290.8,230 290,231.5 288.8,233 C285,234.6 264,234.6 260.6,233 C258.8,231 257.9,229 257.7,226.8 C257.5,224 257.3,222 256.6,220.4 C255.3,217.8 253.5,215.5 252.5,213 C251.3,210 250.9,205 250.5,199.4 Z" fill="url(#gLobe)" stroke="#b0c200" stroke-width="0.5"/>
 <path d="M257.6,204.5 C258.5,209.5 262,213.5 264.8,216.8 C267.5,220 269.3,224 270.2,229.5 L265,229.5 C264.2,225.5 262.8,221.8 261,218.6 C259.2,215.2 257.9,210.5 257.6,204.5 Z" fill="#f0ff1c"/>
 <path d="M291.3,207 C289,210.5 285.5,214 283.3,217 C281,220 279.5,224 278.6,229.5 L283.5,229.5 C284,226 285.2,222.8 286.8,220.2 C288.2,218 289.8,216 291.3,214 Z" fill="#f0ff1c"/>
 <path d="M256,199.4 L291.3,199.4 L291.3,207.5 C289,210 286.5,212.5 284.9,214.5 C282.5,217 280.5,219.5 279.5,222 C278.5,224.5 277.8,226.5 277.5,232 L271.4,232 C270.8,226 269.6,222 267.7,219.4 C265.5,216.5 263,214 261.5,212 C259.5,209.5 258.3,207.5 257.8,205.8 C257,203.5 256.3,201.5 256,199.4 Z" fill="url(#gBand)"/>
 <rect x="259.5" y="243.4" width="30.2" height="11.8" rx="5.9" fill="url(#gLobe)" stroke="#b8c800" stroke-width="0.5"/>
 <ellipse cx="274.8" cy="247.5" rx="9" ry="6.5" fill="#74f000"/>
 <rect x="263.3" y="229.3" width="23" height="18" rx="9" ry="7.5" fill="url(#gGreen)"/>
 <circle cx="242" cy="255.8" r="7.4" fill="url(#gYel)"/>
 <circle cx="274.5" cy="291.9" r="7.7" fill="url(#gYel)"/>
 <circle cx="242" cy="307.9" r="11.9" fill="url(#gGreen)"/>
</g>
<circle cx="274.5" cy="347.9" r="8.7" fill="url(#gBlue)"/>
<g clip-path="url(#cBL)">
 <path d="M225.5,343 C228,342 231,343 233,348.2 L225.5,348.2 Z" fill="#d6f000"/>
 <path d="M249.5,348.2 C251,344.5 254,342.6 258,342.6 L291.3,342.6 L291.3,348.2 Z" fill="#d6f000"/>
 <path d="M256.5,348.2 C258,345.5 260,343.5 263,343.3 L291.3,342.9 L291.3,348.2 Z" fill="url(#gBand)"/>
</g>
<g font-family="Liberation Sans, Arial, sans-serif" fill="#1a1a1a" text-anchor="middle">
 <text x="274.6" y="295.6" font-size="10.5">S</text>
 <text x="242" y="311.8" font-size="11" font-weight="bold" fill="#202020">Zr</text>
</g>

<!-- ===== BR panel ===== -->
<circle cx="320.8" cy="200.3" r="8.7" fill="url(#gBlue)"/>
<g clip-path="url(#cBR)">
 <path d="M304.4,200.3 L339.8,200.3 C339,202.5 338,204 336.5,204.9 L304.4,204.9 Z" fill="url(#gBand)"/>
 <path d="M336.8,200.3 L345,200.3 C344.6,203 342.5,205.2 339.5,205.2 C338,205.2 337,204.8 336,204.4 Z" fill="#d6f000"/>
 <path d="M362.8,200.3 L370.3,200.3 L370.3,205 C366.5,205 363.5,203.5 362.8,200.3 Z" fill="#d6f000"/>
 <circle cx="353.8" cy="240.4" r="11.7" fill="url(#gGreen)"/>
 <circle cx="320.8" cy="256.4" r="7.6" fill="url(#gYel)"/>
 <circle cx="353.8" cy="291.9" r="7.4" fill="url(#gYel)"/>
 <path d="M304.4,312 C307,311 312,311 316,311.5 L330,311.5 C334,312 337.5,317 338.3,324 C338.6,330 338.5,334 340.5,338 C342,341.5 344,344.5 345.3,348.2 L304.4,348.2 Z" fill="url(#gLobe)" stroke="#b8c800" stroke-width="0.5"/>
 <rect x="306.3" y="293" width="30.3" height="8.2" rx="4.1" fill="url(#gLobe)" stroke="#b8c800" stroke-width="0.5"/>
 <ellipse cx="320.8" cy="306" rx="11.8" ry="8.6" fill="url(#gGreen)"/>
 <path d="M320.5,312.5 C316,316 313,322 309.5,329 C307.8,332.5 306,335 304.4,336.8 L304.4,348.2 L341,348.2 C339.8,345.5 338.3,343.2 336.5,340.5 C331.5,333 327,319 320.5,312.5 Z" fill="url(#gBand)"/>
 <path d="M361.8,348.2 C362.2,338 365.5,330 370.3,324 L370.3,348.2 Z" fill="#d6f000" stroke="#b0c000" stroke-width="0.5"/>
 <path d="M366.8,348.2 C367,343 368.2,338.5 370.3,335 L370.3,348.2 Z" fill="#66ee00"/>
</g>
<path d="M312,348.2 A8.7,8.7 0 0 0 329.4,348.2 Z" fill="url(#gBlue)"/>

<!-- panel frames -->
<g fill="none" stroke-width="1">
 <rect x="225.5" y="18.6" width="65.8" height="148.4" stroke="#c4c8ca"/>
 <rect x="304.4" y="18.6" width="65.9" height="148.4" stroke="#e2e4e6"/>
 <rect x="225.5" y="199.4" width="65.8" height="148.8" stroke="#d2d4d6"/>
 <rect x="304.4" y="200.3" width="65.9" height="147.9" stroke="#d8dadc"/>
</g>
<g stroke-width="1">
 <line x1="225.5" y1="18.6" x2="225.5" y2="167" stroke="#9a9da0"/>
 <line x1="225.5" y1="199.4" x2="225.5" y2="348.2" stroke="#f2f2f2"/>
 <line x1="370.3" y1="18.6" x2="370.3" y2="167" stroke="#8e9296"/>
 <line x1="291.3" y1="199.4" x2="291.3" y2="348.2" stroke="#a0a4a8"/>
 <line x1="370.3" y1="200.3" x2="370.3" y2="348.2" stroke="#9a9ea2"/>
</g>
<circle cx="241.9" cy="199.9" r="8.7" fill="url(#gBlue)"/>
<circle cx="353.5" cy="200.3" r="8.7" fill="url(#gBlue)"/>
<circle cx="353.9" cy="348" r="8.6" fill="url(#gBlue)"/>
<!-- TL/TR blue spheres -->
<circle cx="242" cy="18.8" r="8.8" fill="url(#gBlue)"/>
<circle cx="275" cy="18.8" r="8.5" fill="url(#gBlue)"/>
<circle cx="242" cy="167" r="8.9" fill="url(#gBlue)"/>
<circle cx="274.8" cy="167" r="8.9" fill="url(#gBlue)"/>
<circle cx="320.8" cy="18.6" r="8.6" fill="url(#gBlue)"/>
<circle cx="353.8" cy="18.6" r="8.6" fill="url(#gBlue)"/>
<circle cx="320.6" cy="167.2" r="8.6" fill="url(#gBlue)"/>
<circle cx="353.9" cy="167.2" r="8.6" fill="url(#gBlue)"/>

<circle cx="241.8" cy="348.2" r="8.9" fill="url(#gBlue)"/>
<text x="241.8" y="352" font-size="10.8" font-weight="bold" fill="#14143c" text-anchor="middle">Si</text>
<path d="M318.2,157 C318.4,160 318.7,163.3 320.6,163.3 C322.5,163.3 322.8,160 323,157 Z" fill="#d8f000" stroke="#b0c000" stroke-width="0.4"/>

</svg>
</body></html>
